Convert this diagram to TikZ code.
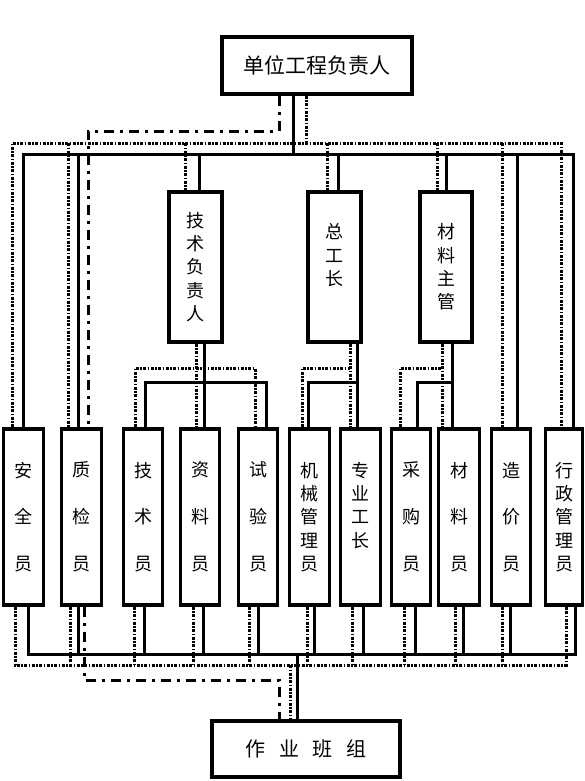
\documentclass[tikz,border=0pt]{standalone}
\usepackage{fontspec}
\newfontfamily\cjk{Noto Sans CJK SC}
\begin{document}
\begin{tikzpicture}[x=1pt,y=-1pt,
 sl/.style={line width=3pt},
 dl/.style={line width=3pt, dash pattern=on 3pt off 1.5pt on 1.5pt off 1.5pt},
 ddl/.style={line width=3pt, dash pattern=on 10pt off 6pt on 3pt off 6pt},
 box/.style={draw, line width=3.2pt, fill=white, inner sep=0pt, align=center,
   font=\cjk\fontsize{18}{23.4}\selectfont},
 vbox/.style={box, minimum width=39.5pt, minimum height=176pt},
 mbox/.style={box, minimum width=53pt, minimum height=150pt}]
\useasboundingbox (0,0) rectangle (585,781);
% boxes
\node[box, minimum width=190pt, minimum height=57pt, font=\cjk\fontsize{21}{24}\selectfont] (top) at (317,65.5) {单位工程负责人};
\node[mbox] (jsfz) at (195.5,267) {技\\术\\负\\责\\人};
\node[mbox] (zgz) at (334.5,267) {总\\工\\长\\\phantom{长}};
\node[mbox, minimum width=52pt] (clzg) at (446,267) {材\\料\\主\\管};
\node[vbox] (b1) at (23.5,517) {安\\[23.4pt]全\\[23.4pt]员};
\node[vbox] (b2) at (81.5,517) {质\\[23.4pt]检\\[23.4pt]员};
\node[vbox] (b3) at (143,517) {技\\[23.4pt]术\\[23.4pt]员};
\node[vbox] (b4) at (200,517) {资\\[23.4pt]料\\[23.4pt]员};
\node[vbox] (b5) at (258,517) {试\\[23.4pt]验\\[23.4pt]员};
\node[vbox] (b6) at (309.5,517) {机\\械\\管\\理\\员};
\node[vbox] (b7) at (360.5,517) {专\\业\\工\\长\\\phantom{长}};
\node[vbox] (b8) at (411,517) {采\\[23.4pt]购\\[23.4pt]员};
\node[vbox, minimum width=40.5pt] (b9) at (459,517) {材\\[23.4pt]料\\[23.4pt]员};
\node[vbox] (b10) at (511,517) {造\\[23.4pt]价\\[23.4pt]员};
\node[vbox, minimum width=37pt] (b11) at (564,517) {行\\政\\管\\理\\员};
\node[box, minimum width=188pt, minimum height=56pt, font=\cjk\fontsize{20}{24}\selectfont] (bot) at (306,749) {作\hspace{13.6pt}业\hspace{13.6pt}班\hspace{13.6pt}组};
% from top box
\draw[sl] (top.south -| 293,0) -- (293,154);
\draw[dl] (top.south -| 306,0) -- (306,143);
\draw[ddl] (top.south -| 279,0) |- (88,131) -- (b2.north -| 88,0);
% top buses
\draw[dl] (b1.north -| 12,0) |- (561,143) -- (b11.north -| 561,0);
\draw[sl] (b1.north -| 23,0) |- (573,154) -- (b11.north -| 573,0);
\foreach \x/\n in {68/b2,185/jsfz,327/zgz,437/clzg,502/b10}
  \draw[dl] (\x,143) -- (\n.north -| \x,0);
\foreach \x/\n in {78/b2,199/jsfz,338/zgz,446/clzg,517/b10}
  \draw[sl] (\x,154) -- (\n.north -| \x,0);
% technical lead group
\draw[dl] (jsfz.south -| 196,0) -- (b4.north -| 196,0);
\draw[sl] (jsfz.south -| 204,0) -- (b4.north -| 204,0);
\draw[dl] (b3.north -| 135,0) |- (255,368) -- (b5.north -| 255,0);
\draw[sl] (b3.north -| 145,0) |- (266,382) -- (b5.north -| 266,0);
% general foreman group
\draw[dl] (zgz.south -| 350,0) -- (b7.north -| 350,0);
\draw[sl] (zgz.south -| 357,0) -- (b7.north -| 357,0);
\draw[dl] (b6.north -| 302,0) |- (350,368);
\draw[sl] (b6.north -| 308,0) |- (357,382);
% material manager group
\draw[dl] (clzg.south -| 442,0) -- (b9.north -| 442,0);
\draw[sl] (clzg.south -| 452,0) -- (b9.north -| 452,0);
\draw[dl] (b8.north -| 400,0) |- (442,368);
\draw[sl] (b8.north -| 417,0) |- (452,382);
% bottom buses
\draw[sl] (b1.south -| 28,0) |- (575,654) -- (b11.south -| 575,0);
\draw[dl] (b1.south -| 15,0) |- (566,665) -- (b11.south -| 566,0);
\foreach \x/\n in {78/b2,144/b3,203/b4,258/b5,314/b6,363/b7,415/b8,463/b9,510/b10}
  \draw[sl] (\n.south -| \x,0) -- (\x,654);
\foreach \x/\n in {70/b2,134/b3,193/b4,249/b5,307/b6,352/b7,404/b8,455/b9,502/b10}
  \draw[dl] (\n.south -| \x,0) -- (\x,665);
\draw[sl] (297,654) -- (bot.north -| 297,0);
\draw[dl] (290,665) -- (bot.north -| 290,0);
\draw[ddl] (b2.south -| 84,0) |- (279,680) -- (bot.north -| 279,0);
\end{tikzpicture}
\end{document}
